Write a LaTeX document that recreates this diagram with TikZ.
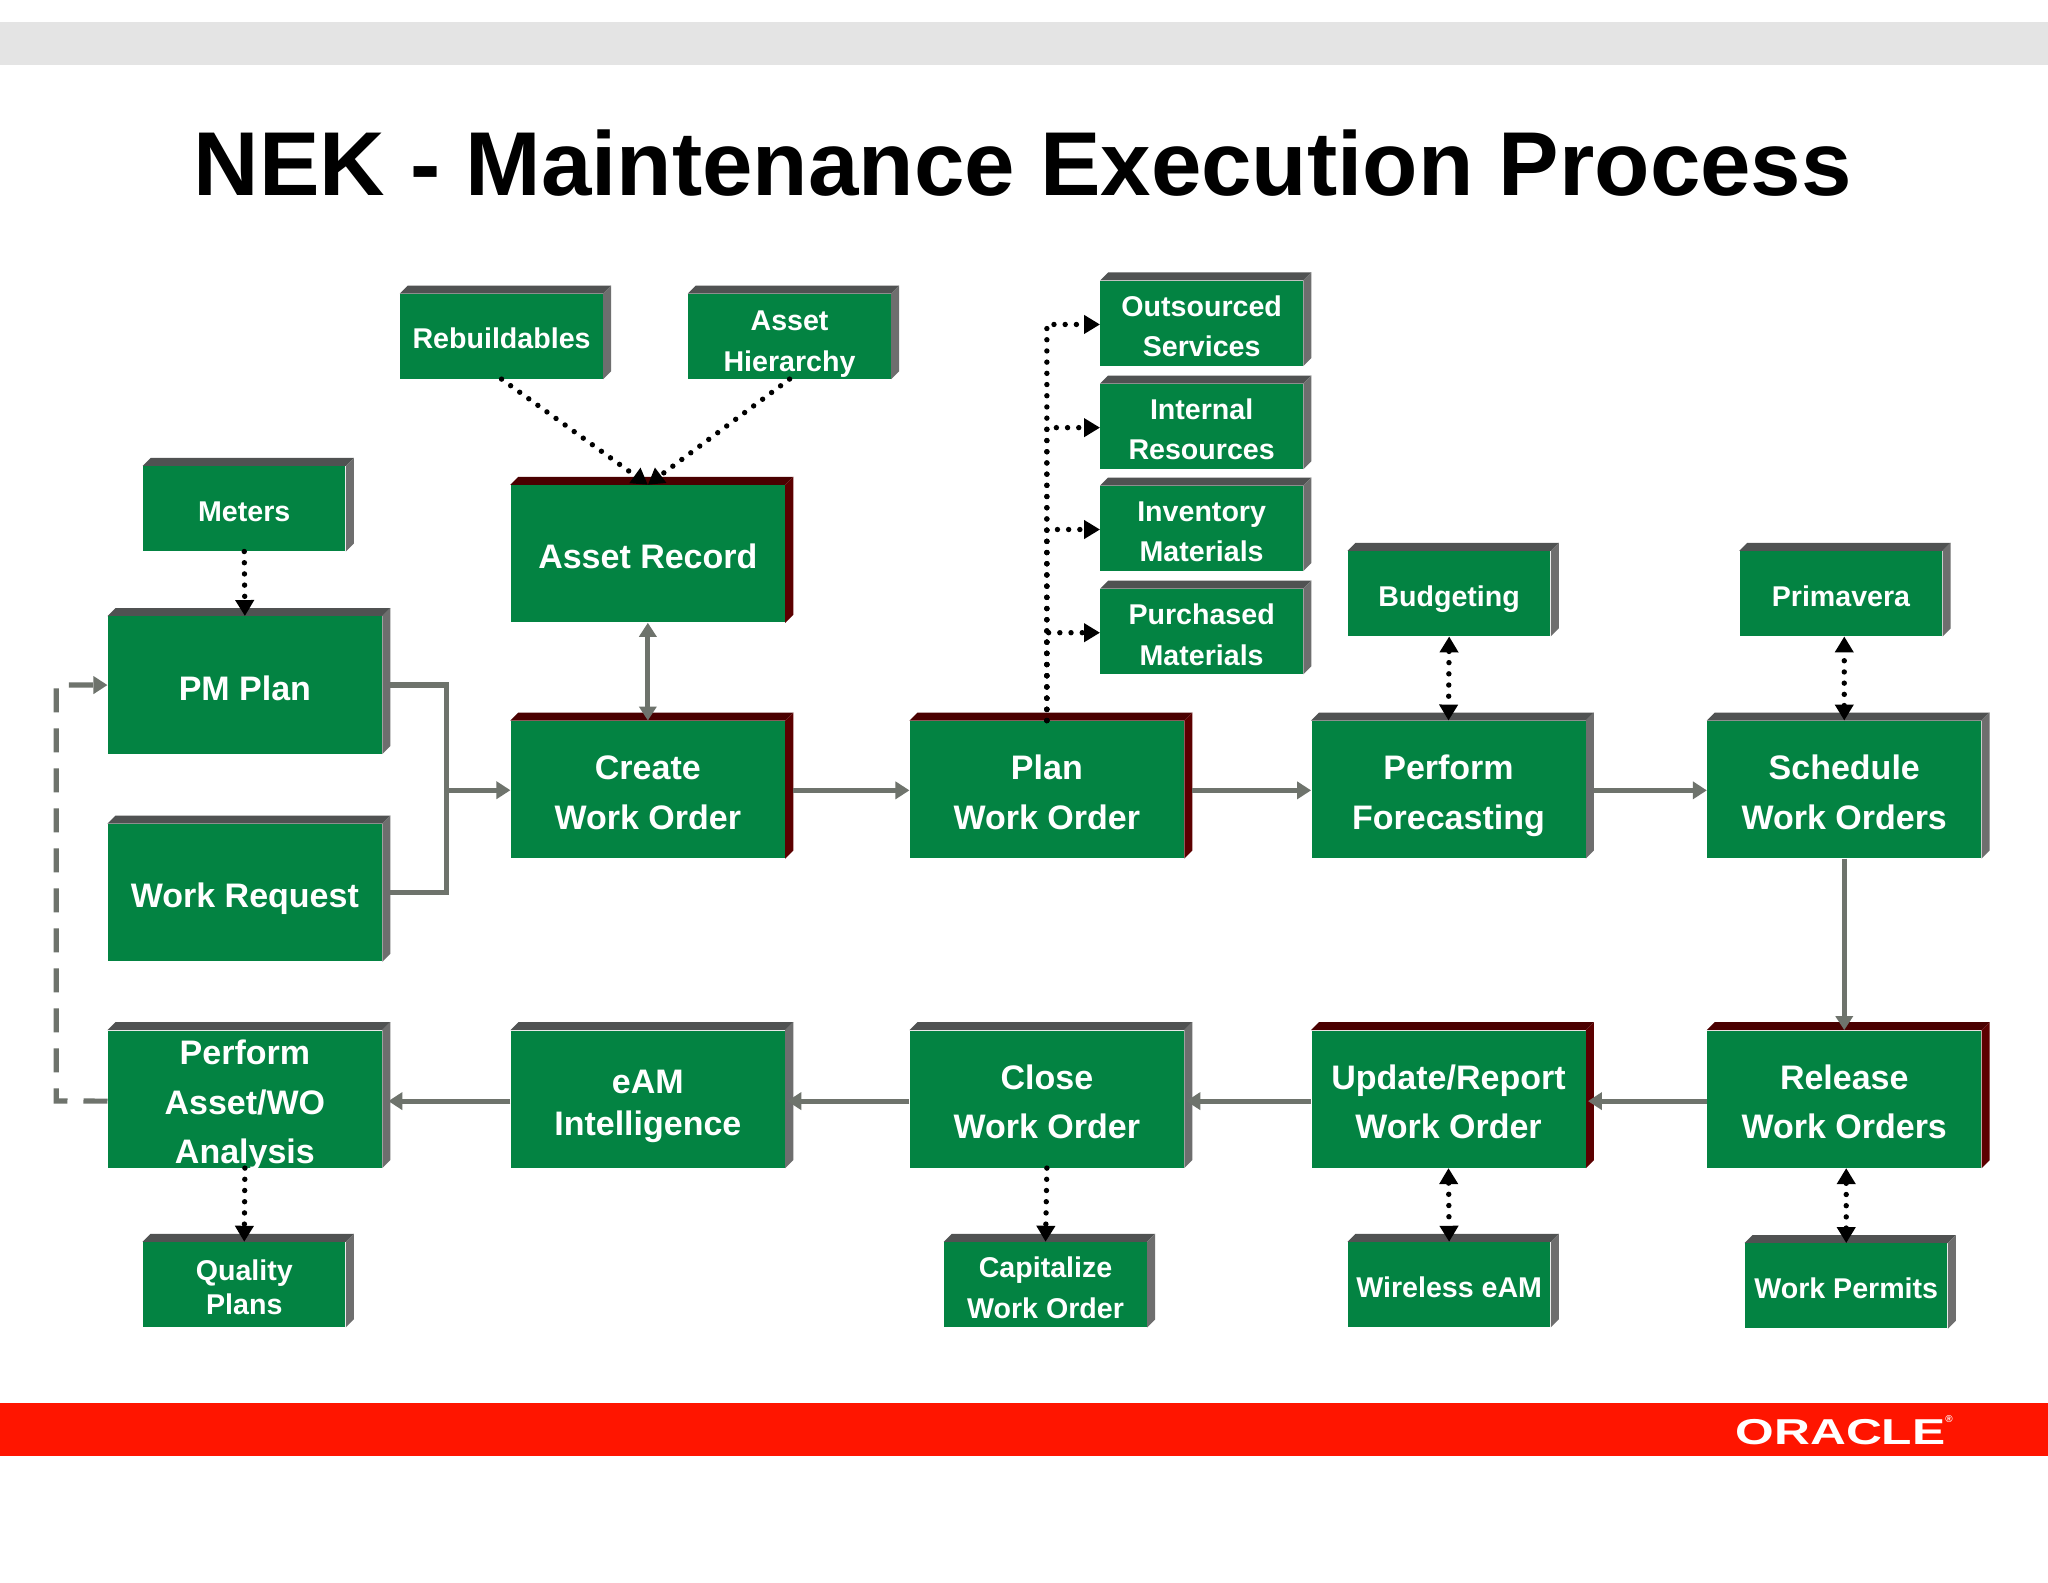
\documentclass[tikz,border=0pt]{standalone}
\usepackage{fontspec}
\setmainfont{Liberation Sans}
\usetikzlibrary{arrows.meta, calc}

\definecolor{boxgreen}{HTML}{038342}
\definecolor{lidgrey}{HTML}{505252}
\definecolor{sidegrey}{HTML}{6E6E6E}
\definecolor{lidred}{HTML}{4A0000}
\definecolor{sidered}{HTML}{5C0000}
\definecolor{linegrey}{HTML}{6E736C}
\definecolor{topband}{HTML}{E4E4E4}
\definecolor{redband}{HTML}{FF1500}

\tikzset{
    box3d/.style 2 args={fill=boxgreen, text=white, align=center, inner sep=0pt, text depth=0pt,
        append after command={\pgfextra{
            \fill[#1] (\tikzlastnode.north west) -- ++(4pt,4pt)
                -- ([shift={(4pt,4pt)}]\tikzlastnode.north east)
                -- (\tikzlastnode.north east) -- cycle;
            \fill[#2] (\tikzlastnode.north east) -- ++(4pt,4pt)
                -- ([shift={(4pt,4pt)}]\tikzlastnode.south east)
                -- (\tikzlastnode.south east) -- cycle;
        }}},
    greyside/.style={box3d={lidgrey}{sidegrey}},
    redside/.style={box3d={lidred}{sidered}},
    bigbox/.style={minimum width=137pt, minimum height=68.6pt, text height=15pt,
        font=\fontsize{17}{24.6}\selectfont\bfseries},
    bigtwo/.style={bigbox, text height=39.6pt},
    smallbox/.style={minimum width=101.2pt, minimum height=42.4pt, text height=12.6pt,
        font=\fontsize{14.3}{20.3}\selectfont\bfseries},
    smalltwo/.style={smallbox, text height=33.5pt},
    flowline/.style={draw=linegrey, line width=2.6pt, -{Triangle[length=7pt,width=8.5pt]}},
    bothline/.style={flowline, {Triangle[length=7pt,width=8.5pt]}-{Triangle[length=7pt,width=8.5pt]}},
    dotline/.style={draw=black, line width=2.7pt, line cap=round, dash pattern=on 0pt off 5.6pt,
        -{Triangle[length=8pt,width=9pt]}},
    dotboth/.style={dotline, {Triangle[length=8pt,width=9pt]}-{Triangle[length=8pt,width=9pt]}},
}

\begin{document}
\begin{tikzpicture}[x=0.65306pt, y=-0.65306pt]
\useasboundingbox[fill=white] (0,0) rectangle (1568,1211.25);

% Bands and title
\fill[topband] (0,17) rectangle (1568,50);
\fill[redband] (0,1074) rectangle (1568,1115);
\node[font=\fontsize{45.35}{50}\selectfont\bfseries] (title) at (783,125) {NEK - Maintenance Execution Process};
\node[text=white, font=\fontsize{18}{20}\selectfont\bfseries] (oracle) at (1412,1095) {\scalebox{1.38}[1]{ORACLE}\raisebox{1.15ex}{\fontsize{5}{5}\selectfont ®}};

% Upper feeders
\node[smallbox, greyside] (rebuildables) at (384,257.5) {Rebuildables};
\node[smalltwo, greyside, text height=35pt] (hierarchy) at (604.5,257.5) {Asset\\Hierarchy};
\node[smallbox, greyside] (meters) at (187,389.5) {Meters};
\node[smalltwo, greyside] (outsourced) at (920,247.5) {Outsourced\\Services};
\node[smalltwo, greyside] (internal) at (920,326.5) {Internal\\Resources};
\node[smalltwo, greyside] (inventory) at (920,404.5) {Inventory\\Materials};
\node[smalltwo, greyside] (purchased) at (920,483.5) {Purchased\\Materials};
\node[smallbox, greyside] (budgeting) at (1109.5,454.5) {Budgeting};
\node[smallbox, greyside] (primavera) at (1409.5,454.5) {Primavera};

% Top row
\node[bigbox, redside] (assetrecord) at (496,424) {Asset Record};
\node[bigbox, greyside] (pmplan) at (187.5,524.5) {PM Plan};
\node[bigbox, greyside] (workrequest) at (187.5,683.5) {Work Request};
\node[bigtwo, redside] (createwo) at (496,604.5) {Create\\Work Order};
\node[bigtwo, redside] (planwo) at (801.5,604.5) {Plan\\Work Order};
\node[bigtwo, greyside] (forecasting) at (1109,604.5) {Perform\\Forecasting};
\node[bigtwo, greyside] (schedulewo) at (1412,604.5) {Schedule\\Work Orders};

% Bottom row
\node[bigbox, greyside, text height=64.2pt] (analysis) at (187.5,841.5) {Perform\\Asset/WO\\Analysis};
\node[bigbox, greyside, text height=36.8pt, font=\fontsize{17}{21}\selectfont\bfseries] (eam) at (496,841.5) {eAM\\Intelligence};
\node[bigtwo, greyside] (closewo) at (801.5,841.5) {Close\\Work Order};
\node[bigtwo, redside] (updatewo) at (1109,841.5) {Update/Report\\Work Order};
\node[bigtwo, redside] (releasewo) at (1412,841.5) {Release\\Work Orders};

% Lower feeders
\node[smallbox, greyside, text height=30pt, font=\fontsize{14.3}{17}\selectfont\bfseries] (quality) at (187,983.5) {Quality\\Plans};
\node[smalltwo, greyside] (capitalize) at (800.5,983.5) {Capitalize\\Work Order};
\node[smallbox, greyside] (wireless) at (1109.5,983.5) {Wireless eAM};
\node[smallbox, greyside] (permits) at (1413.5,984.5) {Work Permits};

% Solid connectors
\coordinate (junction) at (342,605);
\draw[line width=2.6pt, draw=linegrey] ([xshift=4pt]pmplan.east) -| (junction);
\draw[line width=2.6pt, draw=linegrey] ([xshift=4pt]workrequest.east) -| (junction);
\draw[flowline] (junction) -- (createwo.west |- junction);
\draw[bothline] (createwo.north) -- (assetrecord.south);
\draw[flowline] ([xshift=4pt,yshift=-.4pt]createwo.east) -- ([yshift=-.4pt]planwo.west);
\draw[flowline] ([xshift=4pt,yshift=-.4pt]planwo.east) -- ([yshift=-.4pt]forecasting.west);
\draw[flowline] ([xshift=4pt,yshift=-.4pt]forecasting.east) -- ([yshift=-.4pt]schedulewo.west);
\draw[flowline] (schedulewo.south) -- (releasewo.north);
\draw[flowline] ([yshift=-1pt]releasewo.west) -- ([xshift=1pt,yshift=-1pt]updatewo.east);
\draw[flowline] ([yshift=-1pt]updatewo.west) -- ([xshift=1pt,yshift=-1pt]closewo.east);
\draw[flowline] ([yshift=-1pt]closewo.west) -- ([xshift=1pt,yshift=-1pt]eam.east);
\draw[flowline] ([yshift=-1pt]eam.west) -- ([xshift=3pt,yshift=-1pt]analysis.east);

% Dashed loop back to the plan
\coordinate (loopcorner) at (43,843);
\draw[flowline, dash pattern=on 12pt off 8pt] ([yshift=-1pt]analysis.west) -- (loopcorner) |- (pmplan.west);

% Dotted connectors
\draw[dotline] (meters.south) -- (pmplan.north);
\draw[dotline] (rebuildables.south) -- (assetrecord.north);
\draw[dotline] (hierarchy.south) -- (assetrecord.north);
\foreach \target in {outsourced, internal, inventory, purchased} {
    \draw[dotline] (planwo.north) |- ([yshift=-.6pt]\target.west);
}
\draw[dotboth] (budgeting.south) -- (forecasting.north);
\draw[dotboth] (schedulewo.north) -- (schedulewo.north |- primavera.south);
\draw[dotline] (analysis.south) -- (quality.north);
\draw[dotline] (closewo.south) -- (capitalize.north);
\draw[dotboth] (updatewo.south) -- (wireless.north);
\draw[dotboth] (permits.north) -- (permits.north |- releasewo.south);
\end{tikzpicture}
\end{document}
